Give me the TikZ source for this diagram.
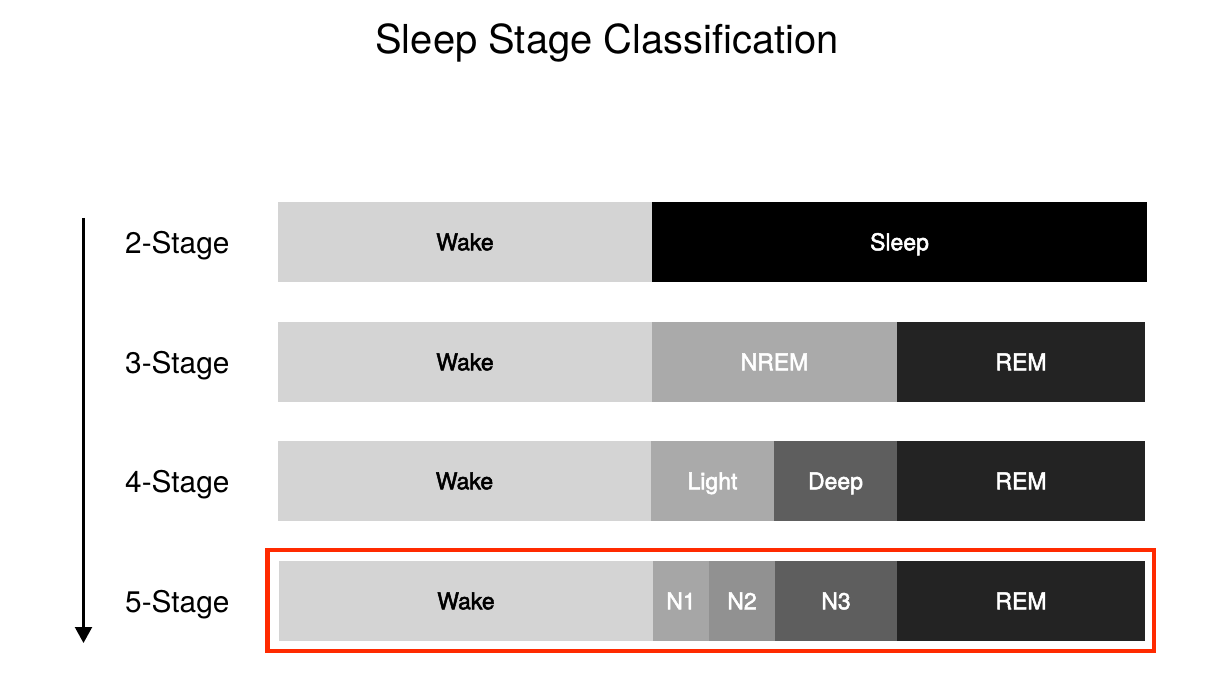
\documentclass[tikz,border=0pt]{standalone}
\usepackage{fontspec}
\setmainfont{TeX Gyre Heros}
\newfontfamily\barfont[FakeBold=2.2]{TeX Gyre Heros}
\usetikzlibrary{arrows.meta}
\definecolor{wakec}{HTML}{D4D4D4}
\definecolor{nremc}{HTML}{AAAAAA}
\definecolor{nonec}{HTML}{A6A6A6}
\definecolor{ntwoc}{HTML}{919191}
\definecolor{deepc}{HTML}{5E5E5E}
\definecolor{remc}{HTML}{232323}
\definecolor{sleepc}{HTML}{000000}
\definecolor{hilite}{HTML}{FF2A00}
\newcommand\segbox[7]{%
  \node[segbox, fill=#5, text=#6, minimum width={#3pt-#2pt}] (#1) at (#2,#4) {#7};}
\begin{document}
\begin{tikzpicture}[x=1pt,y=-1pt,
  segbox/.style={anchor=north west, inner sep=0pt, outer sep=0pt, draw=none,
    minimum height=80pt, font=\barfont\fontsize{23}{25}\selectfont,
    text height=16.5pt, text depth=0pt},
  rowlabel/.style={anchor=west, inner sep=0pt, font=\fontsize{29.8}{32}\selectfont,
    text height=21.4pt, text depth=0pt},
  titlestyle/.style={anchor=base, inner sep=0pt, font=\fontsize{39.9}{42}\selectfont}]
\useasboundingbox (0,0) rectangle (1207,687);
\fill[white] (0,0) rectangle (1207,687);

\node[titlestyle] (title) at (607,54) {Sleep Stage Classification};

% row 1
\segbox{wakeA}{278}{652}{202}{wakec}{black}{Wake}
\segbox{sleepA}{652}{1147}{202}{sleepc}{white}{Sleep}
% row 2
\segbox{wakeB}{278}{652}{322}{wakec}{black}{Wake}
\segbox{nremB}{652}{897}{322}{nremc}{white}{NREM}
\segbox{remB}{897}{1145}{322}{remc}{white}{REM}
% row 3
\segbox{wakeC}{278}{651}{441}{wakec}{black}{Wake}
\segbox{lightC}{651}{774}{441}{nremc}{white}{Light}
\segbox{deepC}{774}{897}{441}{deepc}{white}{Deep}
\segbox{remC}{897}{1145}{441}{remc}{white}{REM}
% row 4
\segbox{wakeD}{279}{653}{561}{wakec}{black}{Wake}
\segbox{noneD}{653}{709}{561}{nonec}{white}{N1}
\segbox{ntwoD}{709}{775}{561}{ntwoc}{white}{N2}
\segbox{nthreeD}{775}{897}{561}{deepc}{white}{N3}
\segbox{remD}{897}{1145}{561}{remc}{white}{REM}

% row labels
\node[rowlabel] (lA) at (125,243) {2-Stage};
\node[rowlabel] (lB) at (125,363) {3-Stage};
\node[rowlabel] (lC) at (125,482) {4-Stage};
\node[rowlabel] (lD) at (125,602) {5-Stage};

% highlight box
\node[draw=hilite, line width=4.5pt, inner sep=0pt, outer sep=0pt, anchor=north west,
  minimum width=886.5pt, minimum height=101pt] (hl) at (267.5,550) {};

% arrow
\coordinate (atop) at (83.5,218);
\coordinate (abot) at (83.5,643);
\draw[line width=2.2pt, -{Triangle[length=16pt,width=17pt]}] (atop) -- (abot);
\end{tikzpicture}
\end{document}
